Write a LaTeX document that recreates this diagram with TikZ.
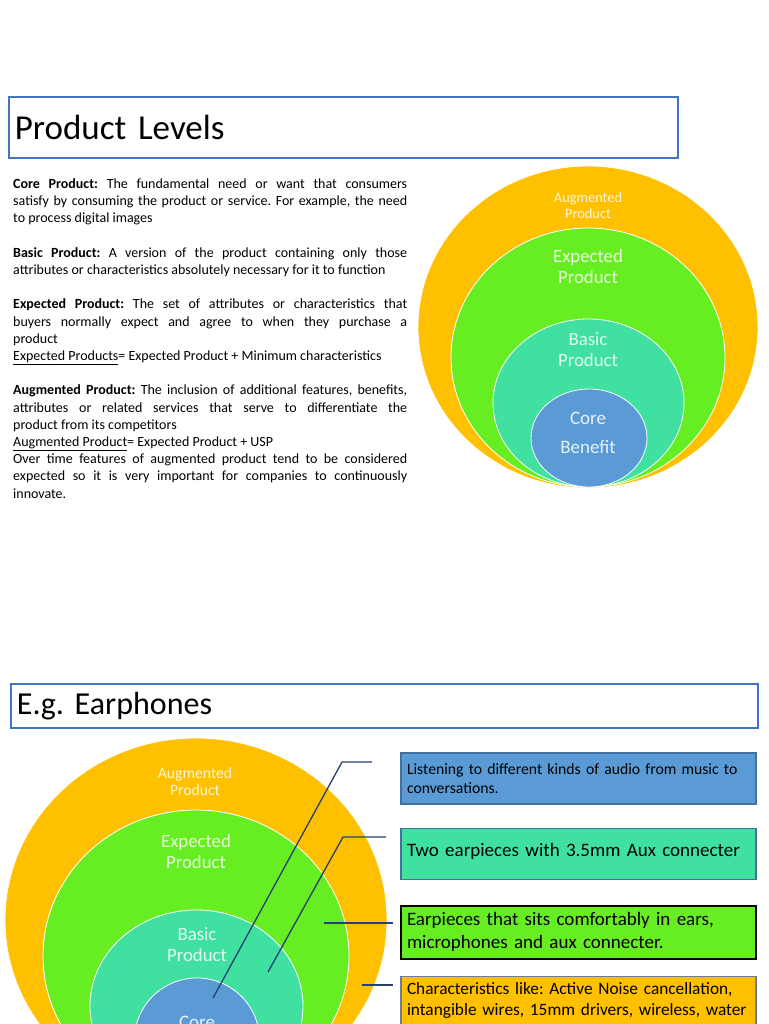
\documentclass[tikz,border=0pt]{standalone}
\usepackage{fontspec}
\setmainfont{Carlito}
\frenchspacing
\definecolor{TitleBlue}{RGB}{68,114,196}
\definecolor{AugYellow}{RGB}{255,192,0}
\definecolor{ExpGreen}{RGB}{102,238,34}
\definecolor{BasicTeal}{RGB}{64,224,160}
\definecolor{CoreBlue}{RGB}{91,155,213}
\definecolor{EdgeBlue}{RGB}{65,113,156}
\definecolor{EdgeGray}{RGB}{110,125,140}
\definecolor{LeaderNavy}{RGB}{38,64,115}
\usetikzlibrary{positioning, shapes.geometric}

\begin{document}
\begin{tikzpicture}[x=1pt, y=-1pt,
    ring/.style={ellipse, draw=white, line width=0.8pt, inner sep=0pt},
    ringlabel/.style={text=white, text opacity=0.85, align=center, inner sep=0pt},
    titlebox/.style={draw=TitleBlue, line width=1.8pt, anchor=north west, align=left, inner xsep=6pt, inner ysep=0pt},
    infobox/.style={rectangle, line width=1.2pt, minimum width=355pt, text width=343pt, align=left, inner xsep=6pt, inner ysep=0pt, text=black},
    leader/.style={LeaderNavy, line width=1.3pt}]
  \useasboundingbox (0,0) rectangle (768,1024);
  \clip (0,0) rectangle (768,1024);
  \fill[white] (0,0) rectangle (768,1024);

  % product levels
  \node[titlebox, text width=657pt, minimum height=61pt, font=\fontsize{35}{40}\selectfont] (levelsTitle) at (8,96) {Product Levels};
  \node[anchor=base west, inner sep=0pt, font=\fontsize{14}{17.2}\selectfont] (levelsText) at (13,188.5) {\parbox[t]{394pt}{\setlength{\parskip}{17.2pt}%
    \textbf{Core Product:} The fundamental need or want that consumers\linebreak satisfy by consuming the product or service. For example, the need\linebreak to process digital images\par
    \textbf{Basic Product:} A version of the product containing only those\linebreak attributes or characteristics absolutely necessary for it to function\par
    \textbf{Expected Product:} The set of attributes or characteristics that\linebreak buyers normally expect and agree to when they purchase a\linebreak product\\
    \underline{Expected Products}= Expected Product + Minimum characteristics\par
    \textbf{Augmented Product:} The inclusion of additional features, benefits,\linebreak attributes or related services that serve to differentiate the\linebreak product from its competitors\\
    \underline{Augmented Product}= Expected Product + USP\\
    Over time features of augmented product tend to be considered\linebreak expected so it is very important for companies to continuously\linebreak innovate.}};

  \node[ring, fill=AugYellow, minimum width=340pt, minimum height=322pt] (augTop) at (588,327) {};
  \node[ring, fill=ExpGreen, minimum width=274pt, minimum height=259pt] (expTop) at (588,357.5) {};
  \node[ring, fill=BasicTeal, minimum width=191pt, minimum height=168pt] (basicTop) at (588.5,403) {};
  \node[ring, fill=CoreBlue, minimum width=116pt, minimum height=98pt] (coreTop) at (589,438) {};
  \node[ringlabel, font=\fontsize{14.4}{16}\selectfont] (augTopLabel) at (588,205.5) {Augmented\\Product};
  \node[ringlabel, font=\fontsize{18.8}{21}\selectfont] (expTopLabel) at (588,267) {Expected\\Product};
  \node[ringlabel, font=\fontsize{18.8}{21}\selectfont] (basicTopLabel) at (588,350) {Basic\\Product};
  \node[ringlabel, font=\fontsize{19}{29}\selectfont] (coreTopLabel) at (588,432.5) {Core\\Benefit};

  % earphones
  \node[titlebox, text width=735pt, minimum height=44pt, font=\fontsize{32}{36}\selectfont] (earTitle) at (10,683) {E.g. Earphones};

  \node[ring, fill=AugYellow, minimum width=382pt, minimum height=364pt] (augBot) at (196,920) {};
  \node[ring, fill=ExpGreen, minimum width=306pt, minimum height=292pt] (expBot) at (196,956) {};
  \node[ring, fill=BasicTeal, minimum width=213pt, minimum height=192pt] (basicBot) at (196.5,1006) {};
  \node[ring, fill=CoreBlue, minimum width=125pt, minimum height=124pt] (coreBot) at (197,1040) {};
  \node[ringlabel, font=\fontsize{15.7}{17}\selectfont] (augBotLabel) at (195,782) {Augmented\\Product};
  \node[ringlabel, font=\fontsize{18.8}{21}\selectfont] (expBotLabel) at (196,852) {Expected\\Product};
  \node[ringlabel, font=\fontsize{18.8}{21}\selectfont] (basicBotLabel) at (197,945) {Basic\\Product};
  \node[ringlabel, font=\fontsize{19}{29}\selectfont] (coreBotLabel) at (197,1037) {Core\\Benefit};

  \node[infobox, fill=CoreBlue, draw=EdgeBlue, minimum height=51pt, font=\fontsize{15.7}{19}\selectfont] (boxCore) at (578.5,778.5) {Listening to different kinds of audio from music to\\conversations.};
  \node[infobox, fill=BasicTeal, draw=EdgeBlue, minimum height=51pt, text depth=8pt, below=23pt of boxCore, font=\fontsize{19}{23}\selectfont] (boxBasic) {Two earpieces with 3.5mm Aux connecter};
  \node[infobox, fill=ExpGreen, draw=black, line width=1.8pt, minimum height=53pt, below=25pt of boxBasic, font=\fontsize{19}{23}\selectfont] (boxExp) {Earpieces that sits comfortably in ears,\\microphones and aux connecter.};
  \node[infobox, fill=AugYellow, draw=EdgeGray, inner ysep=6.5pt, below=16pt of boxExp, font=\fontsize{17.3}{21}\selectfont] (boxAug) {Characteristics like: Active Noise cancellation,\\intangible wires, 15mm drivers, wireless, water\\resistance etc.};

  \coordinate (coreTip) at (213,998);
  \coordinate (coreKnee) at (342,762);
  \coordinate (coreEnd) at (372,762);
  \coordinate (basicTip) at (268,972);
  \coordinate (basicKnee) at (343,837);
  \coordinate (basicEnd) at (386,837);
  \coordinate (expTip) at (324,923);
  \coordinate (expEnd) at (393,923);
  \coordinate (augTip) at (362,985);
  \coordinate (augEnd) at (393,985);
  \draw[leader] (coreTip) -- (coreKnee) -- (coreEnd);
  \draw[leader] (basicTip) -- (basicKnee) -- (basicEnd);
  \draw[leader] (expTip) -- (expEnd);
  \draw[leader] (augTip) -- (augEnd);
\end{tikzpicture}
\end{document}
